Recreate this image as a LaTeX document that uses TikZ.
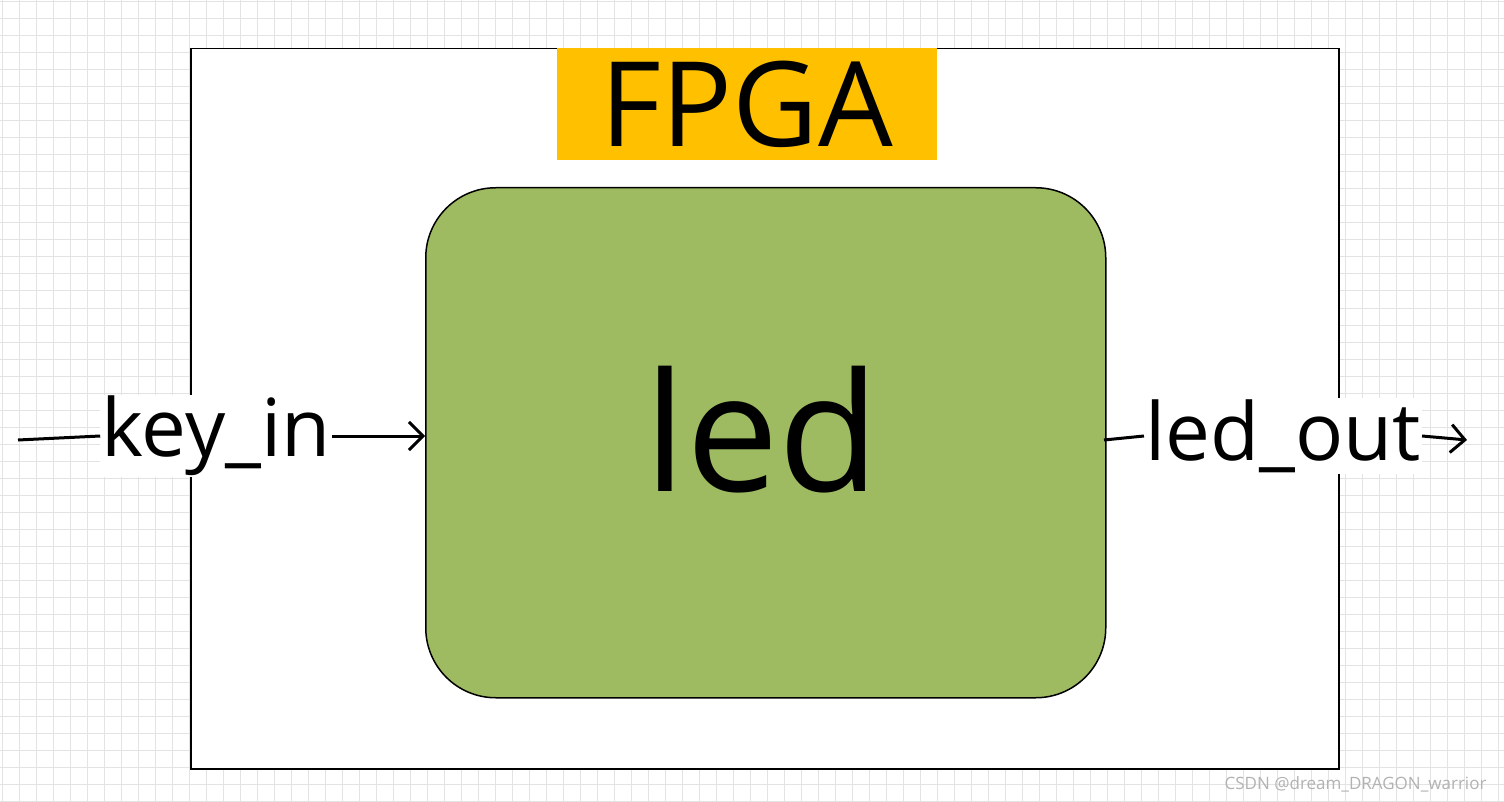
\documentclass[tikz,border=0pt]{standalone}
\usetikzlibrary{arrows.meta}
\usepackage{fontspec}
\setmainfont{Open Sans}
\begin{document}
\begin{tikzpicture}[x=1pt,y=-1pt,
  lbl/.style={fill=white,inner sep=1pt,font=\fontsize{80}{80}\selectfont},
  arr/.style={line width=3pt,-{Straight Barb[length=14pt,width=28pt,line width=3pt]}}]
\useasboundingbox (0,0) rectangle (1504,802);
\fill[white] (0,0) rectangle (1504,802);
\foreach \i in {0,...,88} {\draw[gray!22,line width=1pt] (2+17*\i,0) -- (2+17*\i,802);}
\foreach \i in {0,...,47} {\draw[gray!22,line width=1pt] (0,2+17*\i) -- (1504,2+17*\i);}
\node[draw=black,line width=1.5pt,fill=white,minimum width=1148pt,minimum height=720pt,anchor=north west] (fpga) at (190,48) {};
\node[fill={rgb,255:red,255;green,192;blue,0},minimum width=380pt,minimum height=112pt,anchor=north west,inner sep=0pt] (title) at (557,48) {};
\node[font=\fontsize{118}{118}\selectfont] at (title.center) {FPGA};
\node[draw=black,line width=1.5pt,fill={rgb,255:red,158;green,187;blue,98},rounded corners=70pt,minimum width=680pt,minimum height=510pt,anchor=north west] (led) at (425,187) {};
\node[font=\fontsize{165}{165}\selectfont] at (762,430) {led};
\coordinate (kin) at (18,440);
\node[lbl] (key) at (216,436) {key\_in};
\draw[line width=3pt] (kin) -- (key.west);
\draw[arr] (key.east) -- (led.west |- key.east);
\coordinate (lo) at (1104,440);
\node[lbl] (lout) at (1283,436) {led\_out};
\coordinate (le) at (1467,440);
\draw[line width=3pt] (lo) -- (lout.west);
\draw[arr] (lout.east) -- (le);
\node[anchor=south east,text=gray!60,font=\fontsize{17}{17}\selectfont] (wm) at (1490,796) {CSDN @dream\_DRAGON\_warrior};
\end{tikzpicture}
\end{document}
